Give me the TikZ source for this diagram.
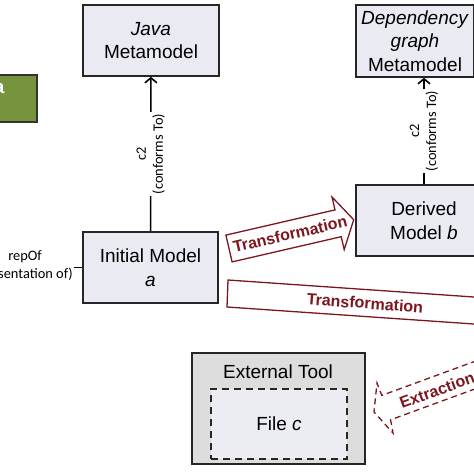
\documentclass[tikz,border=0pt]{standalone}
\usepackage{fontspec}
\setmainfont{Liberation Sans}
\newfontfamily\lblfont{Carlito}
\usetikzlibrary{arrows.meta,positioning}
\definecolor{boxfill}{RGB}{234,234,243}
\definecolor{toolfill}{RGB}{221,221,221}
\definecolor{filefill}{RGB}{236,236,243}
\definecolor{leafgreen}{RGB}{119,147,60}
\definecolor{xferred}{RGB}{125,22,30}

\begin{document}
\begin{tikzpicture}[x=1pt, y=-1pt, >={Straight Barb[length=5pt,width=12pt]},
  model/.style={draw=black!85, line width=1.6pt, fill=boxfill, align=center,
    font=\fontsize{19}{23.5}\selectfont, inner sep=0pt},
  conf/.style={fill=white, rotate=90, align=center, inner sep=2pt,
    font=\lblfont\fontsize{14.4}{17}\selectfont},
  xfer/.style={draw=xferred, line width=1.3pt, fill=white},
  xfertext/.style={text=xferred, font=\bfseries\fontsize{16}{18}\selectfont}]
  \useasboundingbox (0,0) rectangle (474,474);
  \clip (0,0) rectangle (474,474);

  % models
  \node[fill=leafgreen, draw=black!80, line width=1.3pt, minimum width=70pt, minimum height=47pt] (lang) at (2,98.5) {};
  \node[text=white, anchor=base east, font=\bfseries\fontsize{19}{23}\selectfont] (langtext) at (8,93) {a};
  \node[model, minimum width=136pt, minimum height=71pt] (java) at (151,40.5) {\textit{Java}\\Metamodel};
  \node[model, minimum width=118pt, minimum height=72pt] (dep) at (415,41) {\textit{Dependency}\\\textit{graph}\\Metamodel};
  \node[model, minimum width=135pt, minimum height=71pt] (init) at (150.5,267.5) {Initial Model\\\textit{a}};
  \node[model, minimum width=136pt, minimum height=71pt] (derived) at (424,220.5) {Derived\\Model \textit{b}};

  % conformance
  \draw[->, line width=1.6pt] (init) -- node[conf] {c2\\(conforms To)} (java);
  \draw[->, line width=1.6pt] (derived.north) -- node[conf] {c2\\(conforms To)} (derived.north |- dep.south);

  % representation
  \coordinate (repend) at (74,267.5);
  \draw[line width=1.6pt] (repend) -- (init.west);
  \node[anchor=east, inner sep=0pt, font=\lblfont\fontsize{14.4}{17}\selectfont] (repof1) at (42,257) {repOf};
  \node[anchor=east, inner sep=0pt, font=\lblfont\fontsize{14.4}{17}\selectfont] (repof2) at (73,274) {sentation of)};

  % transformations
  \draw[xfer] (225.9,235.1) -- (335,209.9) -- (332,197) -- (353.7,219.7) -- (344.2,249.6) -- (341.2,236.7) -- (232.1,261.9) -- cycle;
  \node[xfertext, rotate=13] (xfer1) at (290,234) {Transformation};
  \draw[xfer] (228,280) -- (500,298.8) -- (500,325.8) -- (227,307) -- cycle;
  \node[xfertext, rotate=-4] (xfer2) at (365,303) {Transformation};

  % external tool
  \node[draw=black!85, line width=1.6pt, fill=toolfill, minimum width=173pt, minimum height=111pt] (tool) at (278.5,408.5) {};
  \node[font=\fontsize{19}{23}\selectfont] (tooltitle) at (278,372) {External Tool};
  \node[draw=black!85, dash pattern=on 7pt off 5pt, line width=1.5pt, fill=filefill, minimum width=136pt, minimum height=70pt,
    font=\fontsize{19}{23}\selectfont] (file) at (279,424) {File \textit{c}};

  % extraction
  \draw[xfer, dash pattern=on 6pt off 4pt] (494.4,381.8) -- (390.6,419.8) -- (393,433) -- (374,412) -- (377,383) -- (381.8,395.4) -- (485.6,357.4);
  \node[xfertext, rotate=20] (extr) at (437,390) {Extraction};
\end{tikzpicture}
\end{document}
